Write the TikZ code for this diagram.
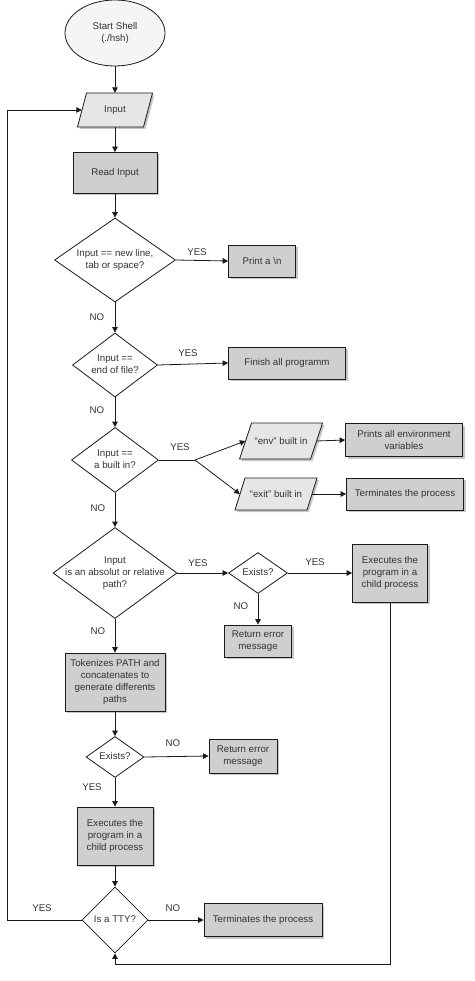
\documentclass[tikz,border=0pt]{standalone}
\usepackage{fontspec}
\setmainfont{Liberation Sans}
\usetikzlibrary{shapes.geometric,arrows.meta,shadows,calc}
\definecolor{boxgray}{HTML}{CFCFCF}
\definecolor{parafill}{HTML}{E6E6E6}
\definecolor{ellfill}{HTML}{F5F5F5}
\definecolor{linecol}{HTML}{1A1A1A}
\definecolor{txtcol}{HTML}{333333}
\newcommand{\dtext}[1]{\makebox[0pt]{\begin{tabular}{@{}c@{}}#1\end{tabular}}}
% name, centre, width, height, slant, text
\newcommand{\paranode}[6]{%
  \filldraw[parashape] ($(#2)+({-#3/2+#5},{-#4/2})$) -- ($(#2)+({#3/2},{-#4/2})$)
     -- ($(#2)+({#3/2-#5},{#4/2})$) -- ($(#2)+({-#3/2},{#4/2})$) -- cycle;
  \node[paratext, minimum width=#3pt, minimum height=#4pt] (#1) at (#2) {#6};
  \coordinate (#1-w) at ([xshift=#5pt/2]#1.west);
  \coordinate (#1-e) at ([xshift=-#5pt/2]#1.east);
}
\begin{document}
\begin{tikzpicture}[x=1pt,y=-1pt,
  font=\fontsize{9.7}{11.7}\selectfont, text=txtcol,
  shad/.style={drop shadow={shadow xshift=2pt, shadow yshift=-2pt, fill=black, opacity=0.22}},
  box/.style={rectangle, draw=linecol, fill=boxgray, line width=0.8pt, align=center, inner sep=1pt, shad},
  parashape/.style={draw=linecol, fill=parafill, line width=0.8pt, line join=miter, shad},
  paratext/.style={rectangle, inner sep=1pt},
  startell/.style={ellipse, draw=linecol, fill=ellfill, line width=0.8pt, align=center, inner sep=0pt},
  dia/.style={diamond, draw=linecol, fill=white, line width=0.8pt, inner sep=0pt, aspect=1},
  arr/.style={-{Triangle[length=5.5pt,width=5.5pt]}, draw=linecol, line width=0.8pt},
  ln/.style={draw=linecol, line width=0.8pt},
  lbl/.style={inner sep=0pt}]
\useasboundingbox (0,0) rectangle (474,981);

% nodes
\node[startell, minimum width=100pt, minimum height=66pt] (start) at (115,33) {Start Shell\\(./hsh)};
\paranode{input}{115,110}{75}{34}{9}{Input}
\node[box, minimum width=84pt, minimum height=41pt] (read) at (115,173) {Read Input};
\node[dia, minimum width=121pt, minimum height=84pt] (d1) at (115,260) {\dtext{Input == new line,\\tab or space?}};
\node[box, minimum width=67pt, minimum height=32pt] (print) at (262,261) {Print a \textbackslash n};
\node[dia, minimum width=85pt, minimum height=64pt] (d2) at (115,365) {\dtext{Input ==\\end of file?}};
\node[box, minimum width=117pt, minimum height=32pt] (finish) at (287,363) {Finish all programm};
\node[dia, minimum width=87pt, minimum height=65pt] (d3) at (115,460) {\dtext{Input ==\\a built in?}};
\coordinate (junc) at (195,460);
\paranode{env}{281,441}{83}{36}{12}{“env” built in}
\paranode{exitp}{276,494}{82}{32}{10}{“exit” built in}
\node[box, minimum width=117pt, minimum height=33pt] (prints) at (404,440) {Prints all environment\\variables};
\node[box, minimum width=117pt, minimum height=32pt] (term1) at (405,494) {Terminates the process};
\node[dia, minimum width=124pt, minimum height=91pt] (d4) at (115,573) {\dtext{Input\\is an absolut or relative\\path?}};
\node[dia, minimum width=59pt, minimum height=41pt] (ex1) at (258,573) {\dtext{Exists?}};
\node[box, minimum width=75pt, minimum height=58pt] (exec1) at (390,573) {Executes the\\program in a\\child process};
\node[box, minimum width=67pt, minimum height=32pt] (err1) at (258,641) {Return error\\message};
\node[box, minimum width=100pt, minimum height=58pt] (tok) at (115,682) {Tokenizes PATH and\\concatenates to\\generate differents\\paths};
\node[dia, minimum width=58pt, minimum height=41pt] (ex2) at (115,757) {\dtext{Exists?}};
\node[box, minimum width=68pt, minimum height=34pt] (err2) at (243,756) {Return error\\message};
\node[box, minimum width=76pt, minimum height=58pt] (exec2) at (115,836) {Executes the\\program in a\\child process};
\node[dia, minimum width=66pt, minimum height=66pt] (tty) at (115,920) {\dtext{Is a TTY?}};
\node[box, minimum width=118pt, minimum height=33pt] (term2) at (263,920) {Terminates the process};

\coordinate (loopL) at (7,0);
\coordinate (loopB) at (0,964);

% connectors
\draw[arr] (start) -- (input);
\draw[arr] (input) -- (read);
\draw[arr] (read) -- (d1);
\draw[arr] (d1.east) -- (print.west);
\draw[arr] (d1.south) -- (d2.north);
\draw[arr] (d2.east) -- (finish.west);
\draw[arr] (d2.south) -- (d3.north);
\draw[ln] (d3.east) -- (junc);
\draw[arr] (junc) -- (env-w);
\draw[arr] (junc) -- (exitp-w);
\draw[arr] (env-e) -- (prints.west);
\draw[arr] (exitp-e) -- (term1.west);
\draw[arr] (d3.south) -- (d4.north);
\draw[arr] (d4.east) -- (ex1.west);
\draw[arr] (ex1.east) -- (exec1.west);
\draw[arr] (ex1.south) -- (err1.north);
\draw[arr] (d4.south) -- (tok.north);
\draw[arr] (tok.south) -- (ex2.north);
\draw[arr] (ex2.east) -- (err2.west);
\draw[arr] (ex2.south) -- (exec2.north);
\draw[arr] (exec2.south) -- (tty.north);
\draw[arr] (tty.east) -- (term2.west);
\draw[arr] (tty.west) -- (tty.west -| loopL) -- (input-w -| loopL) -- (input-w);
\draw[arr] (exec1.south) -- (exec1.south |- loopB) -- (tty.south |- loopB) -- (tty.south);

% labels
\node[lbl] (l1) at (197,252) {YES};
\node[lbl] (l2) at (97,317) {NO};
\node[lbl] (l3) at (188,353) {YES};
\node[lbl] (l4) at (97,410) {NO};
\node[lbl] (l5) at (180,447) {YES};
\node[lbl] (l6) at (98,508) {NO};
\node[lbl] (l7) at (198,563) {YES};
\node[lbl] (l8) at (315,562) {YES};
\node[lbl] (l9) at (241,606) {NO};
\node[lbl] (l10) at (98,631) {NO};
\node[lbl] (l11) at (173,743) {NO};
\node[lbl] (l12) at (92,787) {YES};
\node[lbl] (l13) at (42,908) {YES};
\node[lbl] (l14) at (173,908) {NO};
\end{tikzpicture}
\end{document}
